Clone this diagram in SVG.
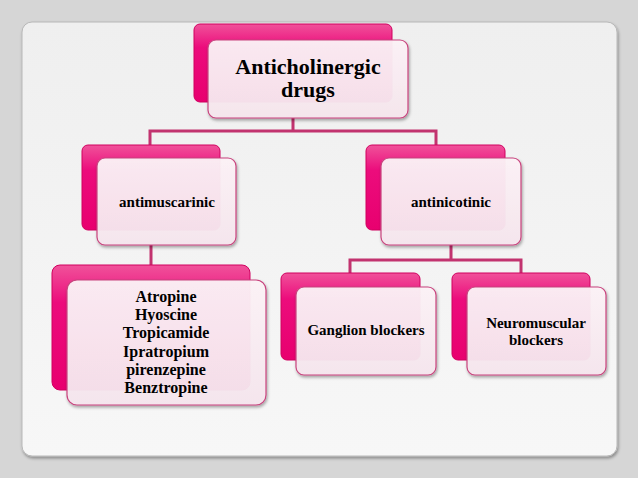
<svg xmlns="http://www.w3.org/2000/svg" width="638" height="478" viewBox="0 0 638 478">
<defs>
<linearGradient id="pk" x1="0" y1="0" x2="0" y2="1"><stop offset="0" stop-color="#f0529a"/><stop offset="0.3" stop-color="#ec0c7c"/><stop offset="1" stop-color="#e8006f"/></linearGradient>
<linearGradient id="wh" x1="0" y1="0" x2="0" y2="1"><stop offset="0" stop-color="#fdf3f7"/><stop offset="1" stop-color="#f6e6ee"/></linearGradient>
<linearGradient id="bg" x1="0" y1="0" x2="0" y2="1"><stop offset="0" stop-color="#efefef"/><stop offset="1" stop-color="#f7f7f7"/></linearGradient>
<filter id="sh" x="-10%" y="-10%" width="130%" height="130%"><feDropShadow dx="1" dy="2" stdDeviation="1.5" flood-color="#000" flood-opacity="0.35"/></filter>
</defs>
<style>
.p{fill:url(#pk);stroke:#d0005f;stroke-width:1}
.w{fill:url(#wh);fill-opacity:0.95;stroke:#c8447e;stroke-width:1.2;filter:url(#sh)}
.t{font-family:"Liberation Serif",serif;font-weight:bold;fill:#000;text-anchor:middle}
.c{fill:none;stroke:#c2336f;stroke-width:3}
</style>
<rect width="638" height="478" fill="#d6d6d6"/>
<rect x="22" y="22" width="595" height="434" rx="10" fill="url(#bg)" stroke="#b8b8b8" filter="url(#sh)"/>
<g id="connectors">
<path class="c" d="M293 118V131M150 145V131H436V145"/>
<path class="c" d="M151 245V265"/>
<path class="c" d="M451 245V260M350 273V260H521V273"/>
</g>
<g id="n-top"><rect class="p" x="194" y="24" width="198" height="78" rx="6"/><rect class="w" x="208" y="40" width="200" height="78" rx="8"/>
<text class="t" x="308" y="74" font-size="22">Anticholinergic</text><text class="t" x="308" y="97" font-size="22">drugs</text></g>
<g id="n-antimuscarinic"><rect class="p" x="82" y="145" width="138" height="85" rx="6"/><rect class="w" x="97" y="158" width="139" height="87" rx="8"/>
<text class="t" x="167" y="207" font-size="15">antimuscarinic</text></g>
<g id="n-antinicotinic"><rect class="p" x="366" y="145" width="139" height="85" rx="6"/><rect class="w" x="381" y="158" width="140" height="87" rx="8"/>
<text class="t" x="451" y="207" font-size="15">antinicotinic</text></g>
<g id="n-drugs"><rect class="p" x="52" y="265" width="198" height="125" rx="8"/><rect class="w" x="67" y="280" width="199" height="125" rx="10"/>
<text class="t" font-size="16"><tspan x="166" y="302">Atropine</tspan><tspan x="166" y="320">Hyoscine</tspan><tspan x="166" y="338">Tropicamide</tspan><tspan x="166" y="357">Ipratropium</tspan><tspan x="166" y="375">pirenzepine</tspan><tspan x="166" y="393">Benztropine</tspan></text></g>
<g id="n-ganglion"><rect class="p" x="281" y="273" width="139" height="87" rx="6"/><rect class="w" x="296" y="287" width="140" height="88" rx="8"/>
<text class="t" x="366" y="335" font-size="15">Ganglion blockers</text></g>
<g id="n-neuromuscular"><rect class="p" x="452" y="273" width="138" height="87" rx="6"/><rect class="w" x="467" y="287" width="139" height="88" rx="8"/>
<text class="t" x="536" y="328" font-size="15">Neuromuscular</text><text class="t" x="536" y="345" font-size="15">blockers</text></g>
</svg>
